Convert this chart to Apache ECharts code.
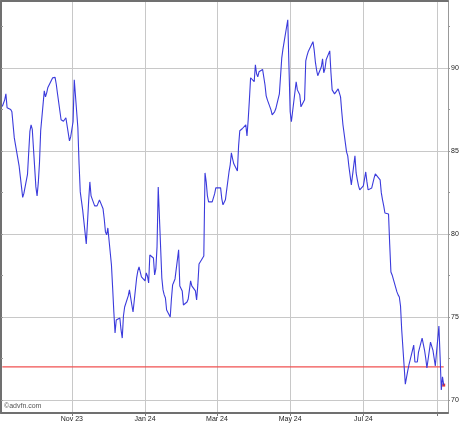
<!DOCTYPE html>
<html>
<head>
<meta charset="utf-8">
<script src="https://cdn.jsdelivr.net/npm/echarts@6/dist/echarts.min.js"></script>
<style>
html, body { margin: 0; padding: 0; background: #fff; }
#chart { width: 474px; height: 424px; }
</style>
</head>
<body>
<div id="chart"></div>
<script>
// daily closes, one per weekday from Mon 4 Sep 2023
const firstDay = '2023-09-04';
const closes = [
  87.67, 87.67, 88.07, 88.43, 87.59,
  87.49, 87.35, 87.29, 85.78, 85.36,
  84.10, 83.46, 82.83, 82.20, 82.44,
  83.58, 84.88, 86.17, 86.57, 86.29,
  82.83, 82.29, 83.07, 84.28, 86.21,
  88.61, 88.25, 88.49, 88.82, 88.89,
  89.40, 89.52, 89.42, 89.01, 88.45,
  86.87, 86.87, 86.78, 86.81, 86.99,
  85.60, 85.84, 86.30, 86.75, 89.28,
  86.39, 84.22, 82.53, 81.99, 81.45,
  79.40, 80.66, 81.99, 83.13, 82.29,
  81.69, 81.81, 81.69, 81.75, 82.05,
  81.51, 80.90, 80.12, 79.94, 80.36,
  78.13, 76.75, 75.30, 74.04, 74.82,
  74.94, 74.22, 73.73, 75.06, 75.60,
  76.27, 76.63, 76.51, 75.72, 75.30,
  77.35, 77.77, 78.01, 77.95, 77.41,
  77.17, 77.65, 77.47, 77.05, 78.73,
  78.55, 77.53, 77.89, 79.22, 82.83,
  77.35, 76.63, 76.33, 76.14, 75.42,
  75.00, 76.08, 76.93, 77.11, 77.29,
  79.04, 76.87, 76.75, 76.57, 75.72,
  75.90, 76.08, 76.63, 77.17, 76.87,
  76.57, 76.02, 76.93, 78.19, 78.31,
  78.67, 83.67, 83.13, 82.29, 81.93,
  81.93, 82.05, 82.41, 82.77, 82.83,
  82.77, 82.11, 81.75, 81.69, 82.05,
  83.73, 84.16, 84.88, 84.52, 84.22,
  83.79, 85.30, 86.21, 86.21, 86.33,
  86.57, 85.90, 86.87, 88.07, 89.40,
  89.16, 90.18, 89.64, 89.46, 89.76,
  89.90, 89.88, 88.98, 88.31, 88.07,
  87.47, 87.17, 87.23, 87.35, 87.53,
  88.43, 88.55, 90.60, 91.14, 91.57,
  92.89, 90.06, 87.35, 86.75, 86.69,
  89.16, 88.67, 88.55, 88.37, 87.65,
  88.07, 90.42, 90.72, 90.96, 90.84,
  91.57, 91.08, 90.36, 89.88, 89.52,
  90.06, 90.54, 89.70, 89.94, 90.48,
  91.02, 89.70, 88.67, 88.79, 88.43,
  88.73, 88.67, 88.25, 87.35, 86.57,
  84.94, 84.70, 84.04, 83.92, 82.95,
  84.70, 83.67, 83.25, 82.89, 82.65,
  82.89, 83.31, 83.73, 83.13, 82.65,
  82.77, 83.07, 83.37, 83.61, 83.73,
  83.25, 82.47, 82.05, 81.69, 81.26,
  81.20, 79.34, 77.71, 77.53, 77.59,
  76.51, 76.33, 76.20, 75.66, 74.22,
  70.96, 70.90, 71.75, 72.11, 72.41,
  73.31, 72.29, 72.23, 72.29, 72.89,
  73.73, 73.37, 73.01, 72.53, 71.93,
  73.49, 73.61, 73.01, 72.53, 72.05,
  74.45, 72.60, 70.60, 71.40, 70.90
];
const refLevel = 72.0;   // red reference line

const monthTicks = ['2023-11-01', '2024-01-01', '2024-03-01', '2024-05-01', '2024-07-01', '2024-09-01'];
const monthLabels = ['Nov 23', 'Jan 24', 'Mar 24', 'May 24', 'Jul 24', ''];
const priceLabels = [70, 75, 80, 85, 90];
const priceTicks = [70, 72.5, 75, 77.5, 80, 82.5, 85, 87.5, 90, 92.5];

const xMin = echarts.time.parse('2023-09-02 22:00').getTime();
const xMax = echarts.time.parse('2024-09-09 14:00').getTime();

// weekday dates for the closes
const points = [];
let day = echarts.time.parse(firstDay);
while (points.length < closes.length) {
    if (day.getDay() !== 0 && day.getDay() !== 6) {
        points.push([day.getTime(), closes[points.length]]);
    }
    day.setDate(day.getDate() + 1);
}
const last = points[points.length - 1];

const tickTimes = monthTicks.map(s => echarts.time.parse(s).getTime());
const labelOf = {};
tickTimes.forEach((t, i) => { labelOf[t] = monthLabels[i]; });

const font = 'Liberation Sans, Arial, sans-serif';

const chart = echarts.init(document.getElementById('chart'));
chart.setOption({
    animation: false,
    grid: { left: 1, top: 1, right: 26, bottom: 11 },
    xAxis: [
        {
            type: 'value', min: xMin, max: xMax, position: 'bottom',
            axisLine: { lineStyle: { color: '#707070', width: 2 } },
            axisTick: { show: true, length: 3, customValues: tickTimes, lineStyle: { color: '#777' } },
            axisLabel: {
                customValues: tickTimes,
                formatter: v => labelOf[v] || '',
                fontSize: 7, color: '#222', margin: 3, fontFamily: font
            },
            splitLine: { show: true, lineStyle: { color: '#c8c8c8', width: 1 } }
        },
        {
            type: 'value', min: xMin, max: xMax, position: 'top',
            axisLine: { lineStyle: { color: '#707070', width: 2 } },
            axisTick: { show: false }, axisLabel: { show: false }, splitLine: { show: false }
        }
    ],
    yAxis: [
        {
            type: 'value', position: 'right', min: 69.22, max: 94.02,
            axisLine: { show: true, lineStyle: { color: '#999', width: 1 } },
            axisTick: { show: true, length: 2, customValues: priceTicks, lineStyle: { color: '#999' } },
            axisLabel: { customValues: priceLabels, fontSize: 7, color: '#222', margin: 3, fontFamily: font },
            splitLine: { show: false }
        },
        {
            type: 'value', position: 'right', min: 69.22, max: 94.02,
            axisLine: { show: false },
            axisTick: { show: false, customValues: priceLabels },
            axisLabel: { show: false },
            splitLine: { show: true, lineStyle: { color: '#c8c8c8', width: 1 } }
        },
        {
            type: 'value', position: 'left', min: 69.22, max: 94.02,
            axisLine: { show: true, lineStyle: { color: '#707070', width: 2 } },
            axisTick: { show: true, inside: true, length: 2, customValues: priceTicks, lineStyle: { color: '#999' } },
            axisLabel: { show: false },
            splitLine: { show: false }
        }
    ],
    graphic: [
        { type: 'text', left: 4, top: 403, style: { text: '©advfn.com', fontSize: 7, fill: '#555', fontFamily: font } }
    ],
    series: [
        {
            // reference level across the period
            type: 'line', symbol: 'none', silent: true,
            data: [[points[0][0], refLevel], [last[0], refLevel]],
            lineStyle: { color: '#f05050', width: 1.2 }
        },
        {
            type: 'line', data: points, symbol: 'none',
            lineStyle: { color: '#3b3bdc', width: 1.1 }
        },
        {
            type: 'scatter', data: [last], symbol: 'rect', symbolSize: 3,
            itemStyle: { color: '#e00000' }
        }
    ]
});
</script>
</body>
</html>
